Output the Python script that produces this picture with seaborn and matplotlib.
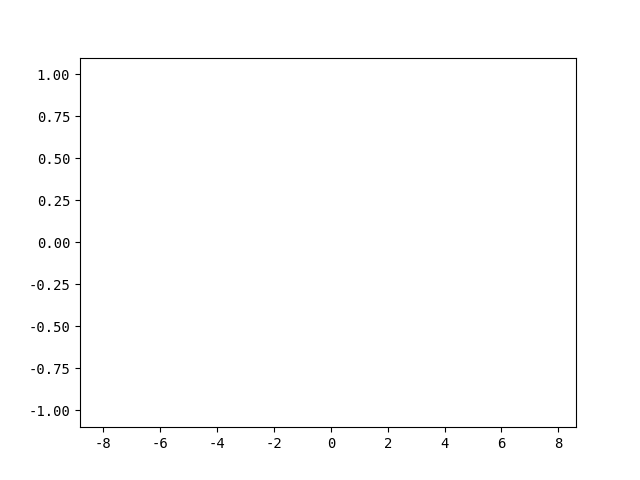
import matplotlib
matplotlib.use("Agg")
import matplotlib.pyplot as plt
import seaborn as sns

# Empty frame (line has no points yet)
x_values = []
y_values = []
x_limits = [-8.82, 8.62]
y_limits = [-1.1, 1.1]
x_ticks = [-8, -6, -4, -2, 0, 2, 4, 6, 8]
y_ticks = [-1.00, -0.75, -0.50, -0.25, 0.00, 0.25, 0.50, 0.75, 1.00]

plt.rcParams["font.family"] = ["DejaVu Sans Mono"]
plt.rcParams["axes.unicode_minus"] = False

fig, ax = plt.subplots(figsize=(6.4, 4.8), dpi=100)

sns.lineplot(x=x_values, y=y_values, ax=ax)

ax.set_xlim(x_limits)
ax.set_ylim(y_limits)
ax.set_xticks(x_ticks)
ax.set_yticks(y_ticks)
ax.set_yticklabels([f"{v:.2f}" for v in y_ticks])

plt.savefig("out.png", dpi=100)
